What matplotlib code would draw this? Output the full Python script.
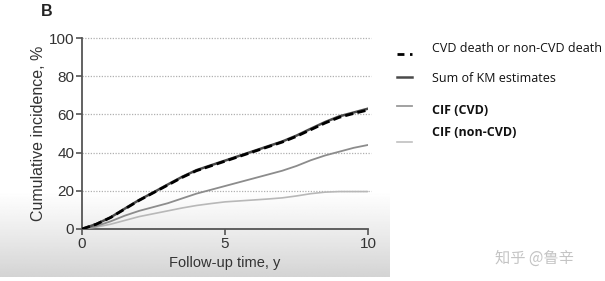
import numpy as np
import matplotlib
matplotlib.use("Agg")
import matplotlib.pyplot as plt
from matplotlib.lines import Line2D

# ---- data ----
years = [0, 0.5, 1, 1.5, 2, 2.5, 3, 3.5, 4, 4.5, 5, 5.5, 6, 6.5, 7, 7.5, 8, 8.5, 9, 9.5, 10]
cvd_or_noncvd = [0, 2.5, 6, 10.5, 15, 19, 23, 27, 30.5, 33, 35.5, 38, 40.5, 43, 45.5, 48.5, 52, 55.5, 58.5, 60.5, 62.3]
sum_km = [0, 2.6, 6.1, 10.7, 15.2, 19.2, 23.3, 27.3, 30.8, 33.3, 35.8, 38.3, 40.8, 43.3, 45.8, 48.9, 52.5, 56, 59, 61, 63]
cif_cvd = [0, 1.5, 4, 7, 9.5, 11.5, 13.5, 16, 18.5, 20.5, 22.5, 24.5, 26.5, 28.5, 30.5, 33, 36, 38.5, 40.5, 42.5, 44]
cif_noncvd = [0, 1, 2.5, 4.5, 6.5, 8, 9.5, 11, 12.3, 13.3, 14.2, 14.7, 15.2, 15.7, 16.3, 17.3, 18.5, 19.3, 19.6, 19.6, 19.6]
legend_labels = ["CVD death or non-CVD death", "Sum of KM estimates", "CIF (CVD)", "CIF (non-CVD)"]
xticks = [0, 5, 10]
yticks = [0, 20, 40, 60, 80, 100]

W, H = 605, 281
fig = plt.figure(figsize=(W / 100, H / 100), dpi=100)
fig.patch.set_facecolor("white")

# background gradient (video capture shading)
bg = fig.add_axes([0, (H - 277) / H, 390 / W, (277 - 190) / H], zorder=-5)
g = np.linspace(0, 1, 100)[:, None] ** 1.1
img = 1 - 0.17 * g
img = np.repeat(img, 200, axis=1)
bg.imshow(img, cmap="gray", vmin=0, vmax=1, aspect="auto", origin="upper")
bg.axis("off")

ax = fig.add_axes([82 / W, (H - 229) / H, (368 - 82) / W, (229 - 38) / H])
ax.set_facecolor("none")
font = "Liberation Sans"

ax.plot(years, cif_noncvd, color="#b8b8b8", lw=1.2, zorder=3)
ax.plot(years, cif_cvd, color="#8c8c8c", lw=1.3, zorder=3)
ax.plot(years, sum_km, color="#4a4a4a", lw=1.8, zorder=4)
ax.plot(years, cvd_or_noncvd, color="black", lw=2.0, dashes=(3, 1.5), zorder=5)

ax.set_xlim(0, 10)
ax.set_ylim(0, 100)
ax.set_xticks(xticks)
ax.set_yticks(yticks)
for y in yticks[1:]:
    ax.axhline(y, color="#b0b0b0", lw=0.9, ls=(0, (1, 1.2)), zorder=1, xmax=1.01, clip_on=False)
for s in ["top", "right"]:
    ax.spines[s].set_visible(False)
for s in ["left", "bottom"]:
    ax.spines[s].set_color("#555555")
    ax.spines[s].set_linewidth(1.3)
ax.tick_params(axis="both", direction="out", length=4, width=1.2, color="#555555",
               labelsize=11, labelcolor="#333333", pad=1.5)
for lab in ax.get_xticklabels() + ax.get_yticklabels():
    lab.set_fontfamily(font)
ax.set_xlabel("Follow-up time, y", fontsize=10.5, family=font, color="#333333", labelpad=4)
ax.set_ylabel("Cumulative incidence, %", fontsize=11.5, family=font, color="#333333")
ax.yaxis.set_label_coords(-0.125, 0.5)

fig.text(41 / W, 1 - 12 / H, "B", fontsize=11.5, fontweight="bold", family=font,
         color="#222222", va="center", ha="left")

# legend drawn manually (matches the edited layout of the reference)
entries = [
    (54, 48, "black", 2.0, (0, (2.5, 2)), "normal"),
    (77, 78, "#4a4a4a", 1.8, "-", "normal"),
    (106, 110, "#9a9a9a", 1.3, "-", "bold"),
    (142, 132, "#c0c0c0", 1.2, "-", "bold"),
]
for (ly, ty, c, lw, ls, wt), lab in zip(entries, legend_labels):
    fig.add_artist(Line2D([397 / W, 412 / W], [1 - ly / H, 1 - ly / H], color=c, lw=lw, ls=ls))
    fig.text(432 / W, 1 - ty / H, lab, fontsize=9, family="Open Sans", fontweight=wt,
             color="#111111", va="center", ha="left")

fig.text(495 / W, 1 - 258 / H, "知乎 @鲁辛", fontsize=11,
         family=["Noto Sans CJK SC", "DejaVu Sans"], color="#c4c4c4", va="center", ha="left")

fig.savefig("out.png", dpi=100)
